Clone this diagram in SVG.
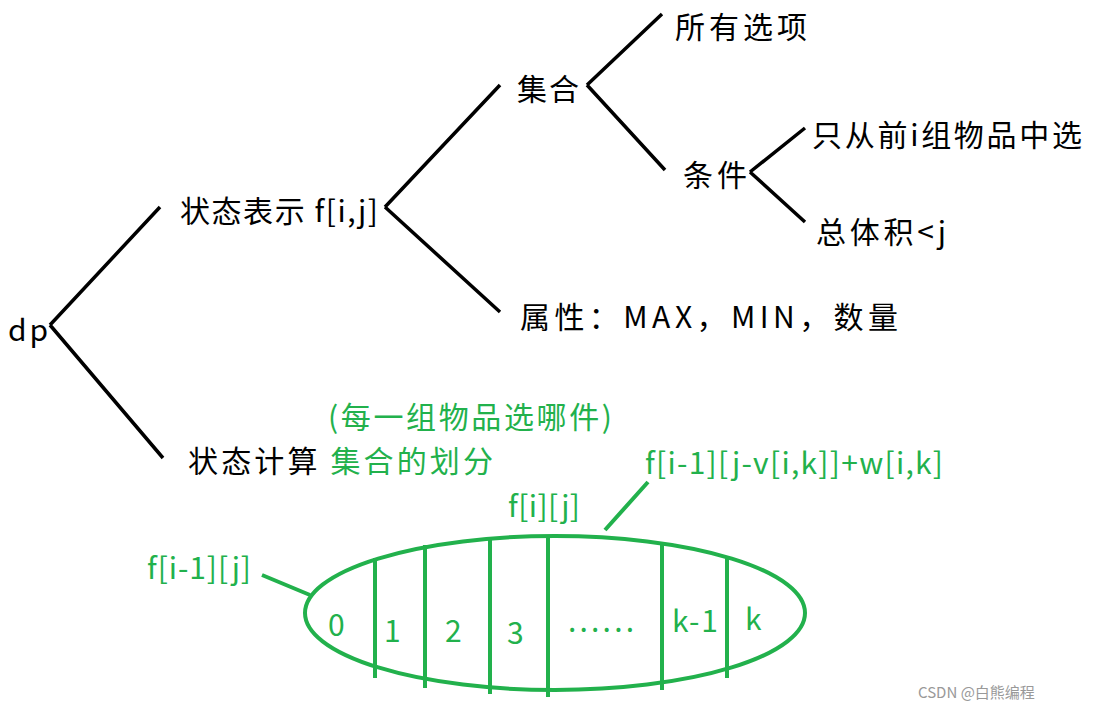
<svg xmlns="http://www.w3.org/2000/svg" width="1093" height="710" viewBox="0 0 1093 710">
<style>
text{font-family:"Microsoft YaHei","Noto Sans CJK SC","Liberation Sans",sans-serif;font-size:30px;fill:#000}
.g{fill:#22b14c}
.k{stroke:#000;stroke-width:3.5;fill:none}
.gl{stroke:#22b14c;stroke-width:4;fill:none}
</style>
<rect width="1093" height="710" fill="#fff"/>
<g id="connectors">
<path class="k" d="M50 325L160 207M50 325L163 458M385 207L500 85M385 207L500 312M587 85L662 14M587 85L665 170M750 172L805 128M750 172L805 222"/>
<path class="gl" d="M605 530L648 482M262 575L310 595"/>
</g>
<g id="dp"><text x="8" y="341" textLength="40">dp</text></g>
<g id="repr"><text x="180" y="222" textLength="198">状态表示 f[i,j]</text></g>
<g id="set"><text x="517" y="100" textLength="62">集合</text></g>
<g id="all"><text x="675" y="38" textLength="132">所有选项</text></g>
<g id="cond"><text x="683" y="186" textLength="64">条件</text></g>
<g id="c1"><text x="812" y="146" textLength="270">只从前i组物品中选</text></g>
<g id="c2"><text x="816" y="243" textLength="130">总体积&lt;j</text></g>
<g id="attr"><text x="520" y="328" textLength="378">属性：MAX，MIN，数量</text></g>
<g id="calc"><text x="188" y="472" textLength="305">状态计算 <tspan class="g">集合的划分</tspan></text>
<text class="g" x="328" y="428" textLength="284">(每一组物品选哪件)</text></g>
<g id="labels">
<text class="g" x="645" y="474" textLength="298">f[i-1][j-v[i,k]]+w[i,k]</text>
<text class="g" x="508" y="517" textLength="72">f[i][j]</text>
<text class="g" x="147" y="579" textLength="104">f[i-1][j]</text>
</g>
<g id="ellipse">
<ellipse class="gl" cx="555" cy="613" rx="250" ry="77"/>
<path class="gl" d="M375 558V678M425 545V688M490 537V694M548 536V697M662 543V690M727 556V678"/>
<text class="g" x="328" y="636">0</text>
<text class="g" x="384" y="642">1</text>
<text class="g" x="445" y="642">2</text>
<text class="g" x="507" y="644">3</text>
<text class="g" x="568" y="632" textLength="66">......</text>
<text class="g" x="672" y="632" textLength="46">k-1</text>
<text class="g" x="745" y="630">k</text>
</g>
<text x="918" y="698" style="font-size:15px;fill:#999">CSDN @白熊编程</text>
</svg>
